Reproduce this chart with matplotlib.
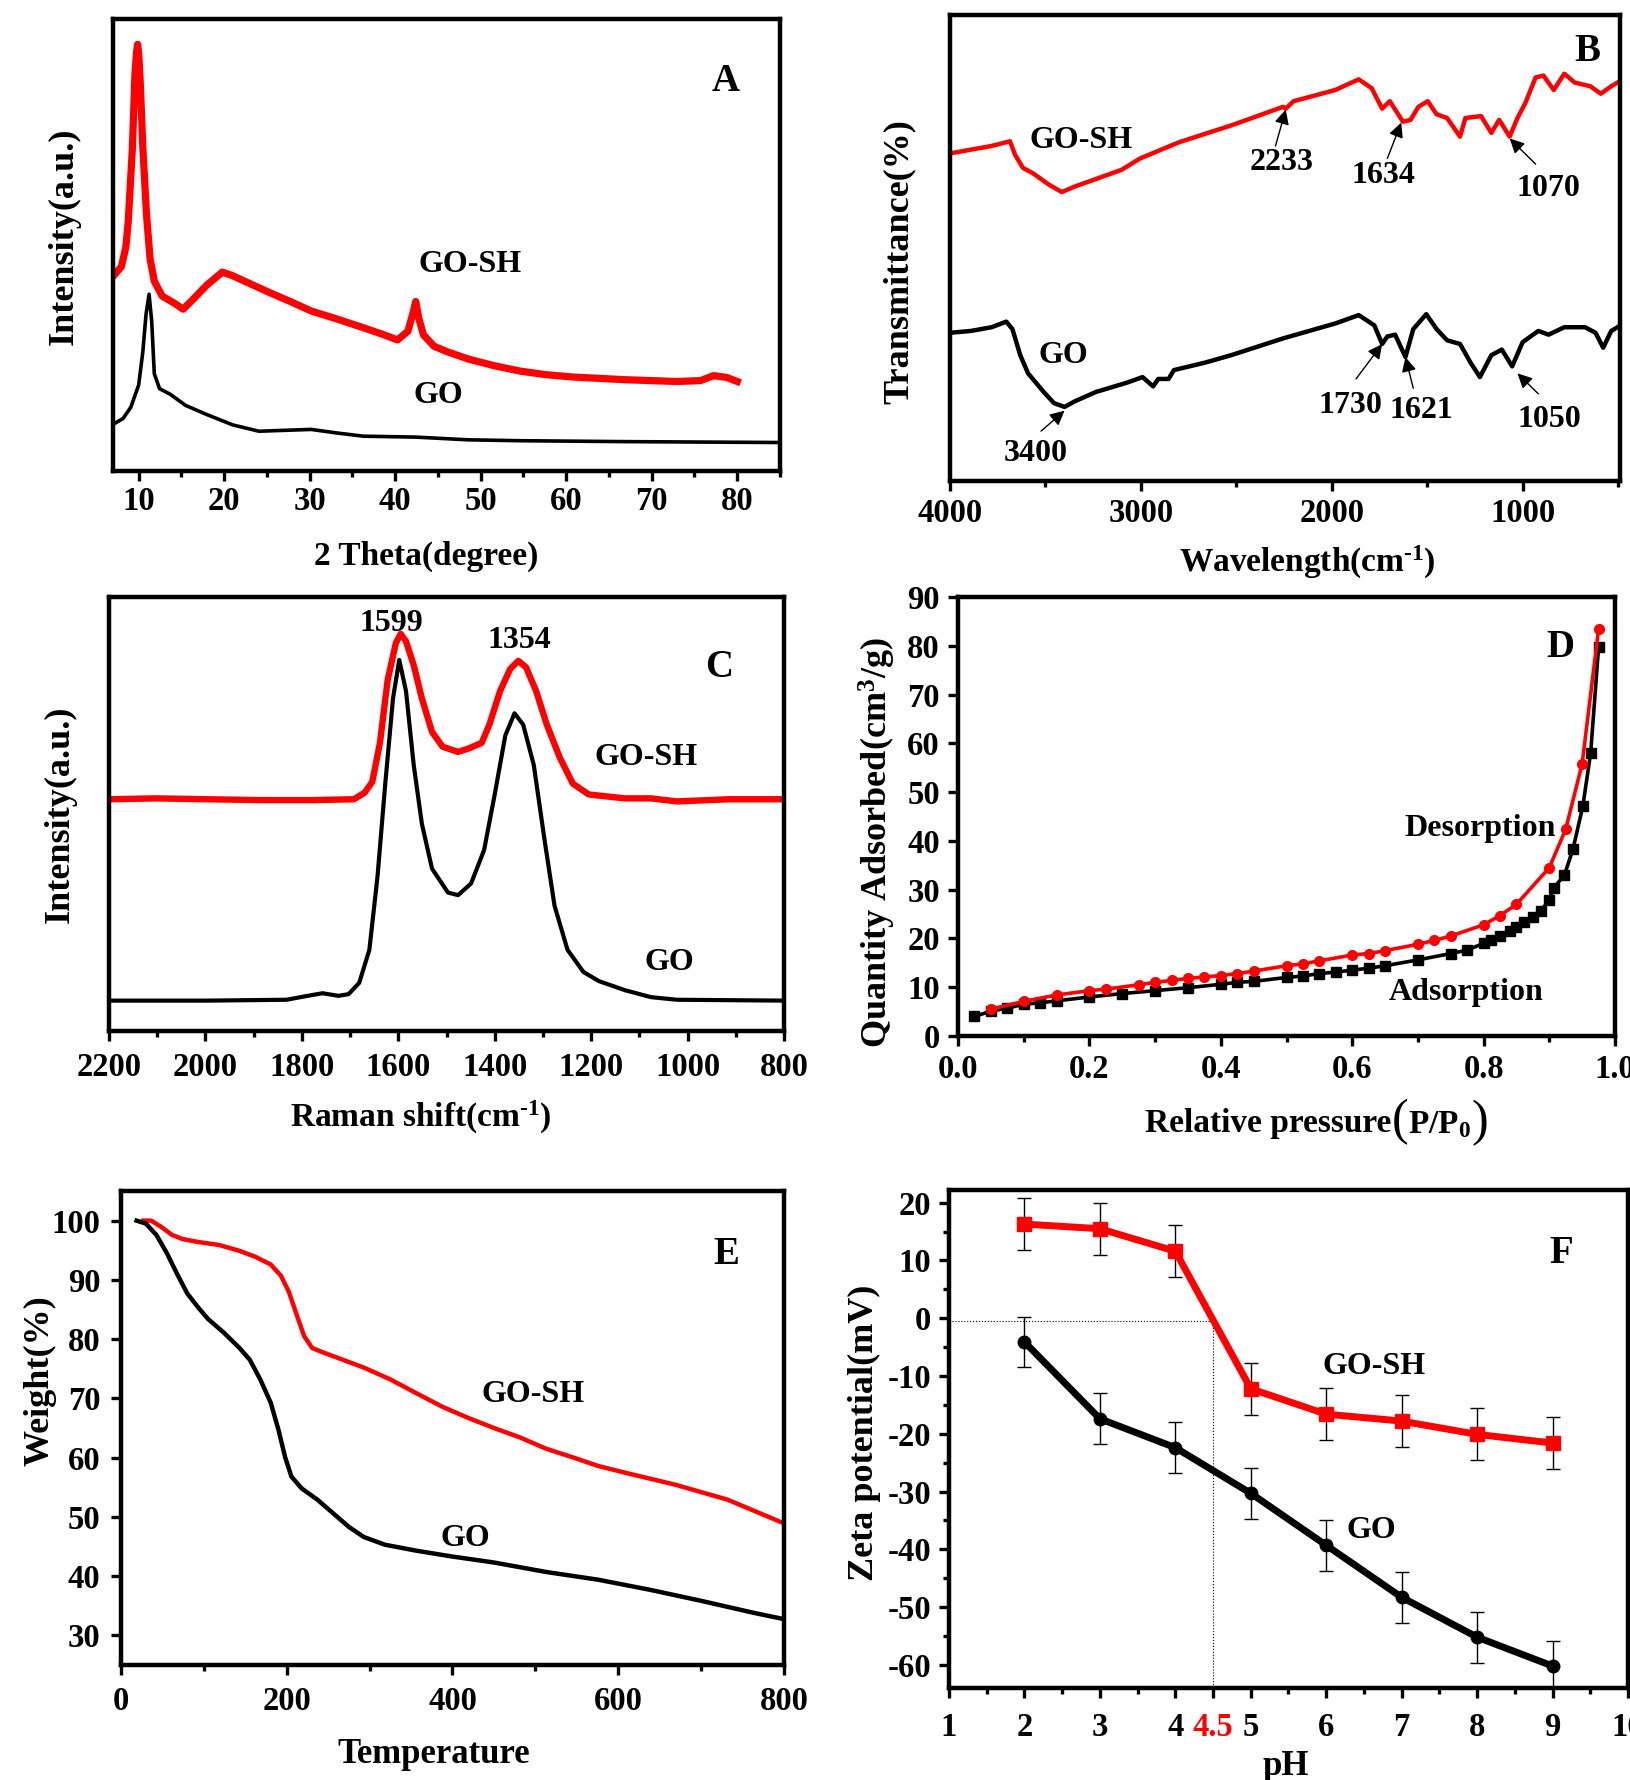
import matplotlib
matplotlib.use('Agg')
import matplotlib.pyplot as plt
from matplotlib.ticker import MultipleLocator, FixedLocator, FormatStrFormatter

plt.rcParams['font.family'] = ['Liberation Serif', 'DejaVu Serif']
plt.rcParams['font.weight'] = 'bold'
plt.rcParams['axes.labelweight'] = 'bold'
plt.rcParams['axes.unicode_minus'] = False
plt.rcParams['mathtext.fontset'] = 'custom'
plt.rcParams['mathtext.rm'] = 'Liberation Serif:bold'
plt.rcParams['mathtext.it'] = 'Liberation Serif:bold'
plt.rcParams['mathtext.bf'] = 'Liberation Serif:bold'

RED = '#ff0000'

# ---------------- Panel A: XRD ----------------
xrd_gosh_x = [7.07, 7.98, 8.5, 8.78, 9.27, 9.57, 9.75, 9.88, 10.02, 10.18, 10.49, 10.92, 11.34, 11.83, 12.75,
              14.28, 15.2, 16.11, 17.95, 19.78, 21.0, 22.84, 25.28, 27.73, 30.17, 33.23, 36.28, 38.73,
              40.26, 41.48, 42.09, 42.4, 42.76, 43.31, 44.54, 46.06, 48.5, 51.56, 54.62, 57.68, 60.73,
              66.85, 72.96, 75.7, 77.24, 78.77, 80.0]
xrd_gosh_y = [43.2, 45.2, 49.5, 55.1, 71.5, 87.9, 92.5, 94.4, 92.0, 86.2, 71.5, 56.7, 46.9, 42.0, 38.7,
              37.0, 35.8, 37.5, 41.1, 44.0, 43.2, 41.6, 39.5, 37.5, 35.4, 33.6, 31.7, 30.1,
              29.0, 30.9, 35.0, 37.5, 33.8, 30.1, 27.6, 26.4, 24.8, 23.3, 22.1, 21.3, 20.8,
              20.2, 19.8, 20.0, 21.1, 20.7, 19.8]
xrd_go_x = [7.07, 8.17, 9.08, 10.0, 10.49, 10.86, 11.22, 11.53, 11.83, 12.45, 13.67, 15.5, 17.95, 21.0,
            24.06, 27.1, 30.17, 33.23, 36.28, 42.4, 48.5, 54.62, 66.85, 85.2]
xrd_go_y = [10.4, 11.6, 14.1, 19.0, 26.4, 34.6, 39.1, 33.0, 21.5, 18.2, 17.0, 14.5, 12.5, 10.2,
            8.8, 9.0, 9.2, 8.4, 7.7, 7.5, 6.9, 6.7, 6.5, 6.3]
xrd_ticks = [10, 20, 30, 40, 50, 60, 70, 80]

# ---------------- Panel B: FTIR ----------------
ir_gosh_x = [4000, 3891, 3782, 3686, 3659, 3618, 3564, 3482, 3414, 3346, 3236, 3100, 3005, 2800, 2527,
             2255, 2241, 2200, 1982, 1859, 1791, 1736, 1696, 1627, 1587, 1546, 1497, 1451, 1396, 1328,
             1300, 1218, 1164, 1123, 1068, 1027, 986, 932, 891, 837, 782, 727, 645, 591, 536, 487]
ir_gosh_y = [70.3, 71.1, 71.9, 72.9, 70.0, 67.2, 66.0, 63.6, 62.0, 63.2, 64.8, 66.8, 69.2, 72.7, 76.3,
             80.3, 79.9, 81.5, 83.9, 86.2, 84.3, 79.9, 81.5, 77.1, 77.5, 80.3, 81.5, 78.7, 77.9, 73.9,
             77.9, 78.3, 74.7, 77.5, 73.9, 77.9, 81.1, 86.6, 87.0, 83.9, 87.4, 85.5, 84.7, 83.1, 84.7, 85.9]
ir_go_x = [4000, 3891, 3782, 3705, 3673, 3632, 3591, 3509, 3455, 3400, 3346, 3236, 3073, 2991, 2936,
           2909, 2855, 2827, 2664, 2527, 2255, 1982, 1859, 1777, 1736, 1709, 1668, 1614, 1573, 1505,
           1451, 1396, 1328, 1273, 1224, 1164, 1109, 1055, 1000, 918, 864, 782, 673, 618, 578, 536, 487]
ir_go_y = [31.8, 32.2, 33.0, 34.2, 32.6, 27.0, 23.1, 19.1, 16.7, 15.9, 17.1, 19.1, 21.1, 22.3, 20.3,
           21.9, 21.9, 23.8, 25.4, 27.0, 30.6, 33.8, 35.6, 33.4, 29.4, 31.0, 31.4, 26.6, 32.6, 35.8,
           32.6, 30.2, 29.4, 25.4, 22.3, 27.0, 28.2, 24.6, 29.8, 32.2, 31.4, 33.0, 33.0, 31.8, 28.6, 32.2, 33.4]
ir_labels = ['2233', '1634', '1070', '3400', '1730', '1621', '1050']
ir_label_pos = [(2263, 68.4), (1728, 65.6), (864, 62.8), (3550, 6.0), (1900, 16.3), (1532, 15.1), (858, 13.1)]
ir_arrow_tail = [(2295, 71.9), (1709, 69.2), (932, 68.0), (3523, 10.7), (1873, 21.9), (1573, 19.9), (918, 18.7)]
ir_arrow_tip = [(2241, 79.7), (1636, 76.9), (1068, 73.5), (3400, 15.1), (1736, 29.4), (1614, 26.6), (1027, 23.1)]
ir_ticks = [4000, 3000, 2000, 1000]

# ---------------- Panel C: Raman ----------------
ram_gosh_x = [2200, 2103, 1995, 1886, 1778, 1692, 1670, 1654, 1638, 1622, 1605, 1595, 1584, 1568, 1551,
              1530, 1508, 1476, 1454, 1427, 1411, 1389, 1368, 1351, 1335, 1314, 1292, 1265, 1238, 1205,
              1130, 1076, 1022, 914, 800]
ram_gosh_y = [53.4, 53.6, 53.4, 53.2, 53.2, 53.4, 54.9, 57.4, 66.4, 80.9, 89.4, 91.5, 89.8, 84.3, 76.6,
              68.9, 65.5, 64.3, 65.1, 66.4, 70.6, 78.3, 83.4, 85.3, 83.8, 78.3, 70.6, 63.0, 57.0, 54.5,
              53.6, 53.6, 52.9, 53.4, 53.4]
ram_go_x = [2200, 1995, 1832, 1778, 1757, 1724, 1703, 1681, 1660, 1643, 1627, 1611, 1598, 1584, 1568,
            1551, 1530, 1497, 1476, 1449, 1422, 1400, 1378, 1359, 1341, 1319, 1297, 1276, 1249, 1216,
            1184, 1130, 1076, 1022, 800]
ram_go_y = [7.0, 7.0, 7.2, 8.3, 8.7, 8.1, 8.5, 11.1, 18.7, 35.7, 57.0, 76.6, 85.5, 78.3, 61.3,
            47.7, 37.4, 31.9, 31.3, 34.0, 41.7, 54.5, 68.1, 73.2, 70.6, 61.3, 44.3, 28.9, 18.7, 13.6,
            11.5, 9.4, 7.8, 7.2, 7.0]
ram_ticks = [2200, 2000, 1800, 1600, 1400, 1200, 1000, 800]

# ---------------- Panel D: N2 isotherm ----------------
ads_p = [0.025, 0.05, 0.075, 0.1, 0.125, 0.15, 0.2, 0.25, 0.3, 0.35, 0.4, 0.425, 0.45, 0.5, 0.525, 0.55,
         0.575, 0.6, 0.625, 0.65, 0.7, 0.75, 0.775, 0.8, 0.812, 0.825, 0.84, 0.85, 0.862, 0.875, 0.887,
         0.9, 0.907, 0.923, 0.936, 0.951, 0.963, 0.975]
ads_q = [4.0, 5.1, 5.7, 6.5, 6.8, 7.2, 8.0, 8.7, 9.3, 9.9, 10.6, 11.0, 11.2, 12.0, 12.3, 12.8,
         13.1, 13.5, 13.9, 14.4, 15.6, 16.9, 17.6, 19.0, 19.7, 20.5, 21.6, 22.4, 23.4, 24.3, 25.6,
         27.9, 30.4, 33.0, 38.3, 47.1, 58.1, 79.7]
des_p = [0.05, 0.1, 0.15, 0.2, 0.225, 0.275, 0.3, 0.325, 0.35, 0.375, 0.4, 0.425, 0.45, 0.5, 0.525,
         0.55, 0.6, 0.625, 0.65, 0.7, 0.725, 0.75, 0.8, 0.825, 0.85, 0.9, 0.925, 0.95, 0.975]
des_q = [5.5, 7.1, 8.4, 9.3, 9.6, 10.5, 11.0, 11.4, 11.8, 12.1, 12.4, 12.8, 13.3, 14.4, 14.8,
         15.4, 16.6, 16.9, 17.5, 18.8, 19.6, 20.5, 22.8, 24.7, 27.0, 34.5, 42.4, 55.8, 83.4]

# ---------------- Panel E: TGA ----------------
tga_go_t = [18.8, 30, 42.6, 55, 67.7, 80, 92.8, 105, 124, 143, 155.5, 168, 180.6, 190, 198, 205.6, 218,
            237, 256, 275, 293, 318.5, 356, 400, 450, 513, 575.5, 638, 701, 763.6, 798]
tga_go_w = [100, 99.5, 97.6, 94.6, 91.0, 87.7, 85.4, 83.4, 81.1, 78.5, 76.5, 73.2, 69.3, 64.7, 60.1,
            56.8, 54.8, 52.9, 50.6, 48.3, 46.6, 45.3, 44.3, 43.3, 42.3, 40.7, 39.4, 37.7, 35.8, 33.8, 32.8]
tga_gosh_t = [27, 36.4, 49, 61.4, 74, 92.8, 118, 143, 162, 180.6, 193, 202.5, 212, 221, 230.7, 243, 268,
              293, 325, 356, 387.5, 419, 450, 481.5, 513, 544, 575.5, 607, 669.6, 732, 800]
tga_gosh_w = [100, 100, 98.9, 97.6, 96.9, 96.4, 95.9, 94.9, 93.9, 92.6, 90.7, 88.0, 84.1, 80.5, 78.5,
              77.8, 76.5, 75.2, 73.2, 70.9, 68.6, 66.7, 65.0, 63.4, 61.5, 60.1, 58.6, 57.5, 55.4, 52.9, 48.9]

# ---------------- Panel F: Zeta potential ----------------
ph = [2, 3, 4, 5, 6, 7, 8, 9]
zeta_gosh = [16.3, 15.5, 11.6, -12.2, -16.6, -17.8, -20.1, -21.6]
zeta_gosh_err = [4.5, 4.5, 4.5, 4.5, 4.5, 4.5, 4.5, 4.5]
zeta_go = [-4.1, -17.4, -22.4, -30.3, -39.3, -48.3, -55.2, -60.2]
zeta_go_err = [4.4, 4.4, 4.4, 4.4, 4.4, 4.4, 4.4, 4.4]
iep_ph = 4.5
iep_zeta = -0.4
ph_ticks = [1, 2, 3, 4, 4.5, 5, 6, 7, 8, 9, 10]
ph_ticklabels = ['1', '2', '3', '4', '4.5', '5', '6', '7', '8', '9', '10']

# ---------------- Figure ----------------
W, H = 1631, 1780
fig = plt.figure(figsize=(W / 100, H / 100), dpi=100)

TICK_FS = 23.5
LAB_FS = 24
YLAB_FS = 26
ANN_FS = 23
LET_FS = 28


def add_ax(l, r, t, b):
    return fig.add_axes([l / W, 1 - b / H, (r - l) / W, (b - t) / H])


def style(ax, pad=6.5):
    for s in ax.spines.values():
        s.set_linewidth(3.2)
    ax.tick_params(which='major', direction='out', length=7, width=2.4, labelsize=TICK_FS, pad=pad)
    ax.tick_params(which='minor', direction='out', length=4.5, width=2.4)
    for lab in ax.get_xticklabels() + ax.get_yticklabels():
        lab.set_fontweight('bold')


# ---- A ----
axA = add_ax(113, 780, 19, 471)
axA.plot(xrd_gosh_x, xrd_gosh_y, color=RED, lw=5.2, solid_joinstyle='round')
axA.plot(xrd_go_x, xrd_go_y, color='k', lw=2.6)
axA.set_xlim(7, 85)
axA.set_ylim(0, 100)
axA.set_xticks(xrd_ticks)
axA.xaxis.set_minor_locator(MultipleLocator(5))
axA.set_yticks([])
style(axA, pad=4)
axA.set_xlabel('2 Theta(degree)', fontsize=LAB_FS)
axA.xaxis.set_label_coords(0.47, -0.155)
axA.set_ylabel('Intensity(a.u.)', fontsize=YLAB_FS)
axA.yaxis.set_label_coords(-0.049, 0.52)
axA.text(48.8, 45.7, 'GO-SH', fontsize=ANN_FS, ha='center', va='center')
axA.text(45.0, 16.6, 'GO', fontsize=ANN_FS, ha='center', va='center')
axA.text(78.6, 86.2, 'A', fontsize=LET_FS, ha='center', va='center')

# ---- B ----
axB = add_ax(950, 1620, 15, 481)
axB.plot(ir_gosh_x, ir_gosh_y, color=RED, lw=3.2)
axB.plot(ir_go_x, ir_go_y, color='k', lw=3.2)
axB.set_xlim(4000, 490)
axB.set_ylim(0, 100)
axB.set_xticks(ir_ticks)
axB.xaxis.set_minor_locator(MultipleLocator(500))
axB.set_yticks([])
style(axB, pad=5)
axB.set_xlabel(r'Wavelength(cm$^{\text{-}1}$)', fontsize=LAB_FS)
axB.xaxis.set_label_coords(0.533, -0.135)
axB.set_ylabel('Transmittance(%)', fontsize=YLAB_FS)
axB.yaxis.set_label_coords(-0.051, 0.47)
axB.text(3313, 73.1, 'GO-SH', fontsize=ANN_FS, ha='center', va='center')
axB.text(3408, 27.0, 'GO', fontsize=ANN_FS, ha='center', va='center')
axB.text(660, 92.2, 'B', fontsize=LET_FS, ha='center', va='center')
for lab, pos, tail, tip in zip(ir_labels, ir_label_pos, ir_arrow_tail, ir_arrow_tip):
    axB.text(pos[0], pos[1], lab, fontsize=ANN_FS, ha='center', va='center')
    axB.annotate('', xy=tip, xytext=tail,
                 arrowprops=dict(arrowstyle='-|>', color='k', lw=1.0, mutation_scale=22,
                                 shrinkA=0, shrinkB=0))

# ---- C ----
axC = add_ax(109, 784, 597, 1031)
axC.plot(ram_gosh_x, ram_gosh_y, color=RED, lw=4.6, solid_joinstyle='round')
axC.plot(ram_go_x, ram_go_y, color='k', lw=3.0)
axC.set_xlim(2200, 800)
axC.set_ylim(0, 100)
axC.set_xticks(ram_ticks)
axC.xaxis.set_minor_locator(MultipleLocator(100))
axC.set_yticks([])
style(axC, pad=8)
axC.set_xlabel(r'Raman shift(cm$^{\text{-}1}$)', fontsize=LAB_FS)
axC.xaxis.set_label_coords(0.462, -0.156)
axC.set_ylabel('Intensity(a.u.)', fontsize=YLAB_FS)
axC.yaxis.set_label_coords(-0.048, 0.5)
axC.text(1614, 93.8, '1599', fontsize=ANN_FS, ha='center', va='center')
axC.text(1349, 90.0, '1354', fontsize=ANN_FS, ha='center', va='center')
axC.text(935, 83.8, 'C', fontsize=LET_FS, ha='center', va='center')
axC.text(1086, 63.0, 'GO-SH', fontsize=ANN_FS, ha='center', va='center')
axC.text(1038, 15.7, 'GO', fontsize=ANN_FS, ha='center', va='center')

# ---- D ----
axD = add_ax(958, 1615, 597, 1036)
axD.plot(ads_p, ads_q, color='k', lw=2.6, marker='s', ms=7)
axD.plot(des_p, des_q, color=RED, lw=2.6, marker='o', ms=7)
axD.set_xlim(0, 1.0)
axD.set_ylim(0, 90)
axD.xaxis.set_major_locator(MultipleLocator(0.2))
axD.xaxis.set_minor_locator(MultipleLocator(0.1))
axD.yaxis.set_major_locator(MultipleLocator(10))
axD.xaxis.set_major_formatter(FormatStrFormatter('%.1f'))
style(axD, pad=6)
axD.set_ylabel(r'Quantity Adsorbed(cm$^3$/g)', fontsize=YLAB_FS)
axD.yaxis.set_label_coords(-0.092, 0.44)
# x label with enlarged parentheses, chained left to right
tD1 = axD.text(0.285, -0.20, 'Relative pressure', transform=axD.transAxes, fontsize=LAB_FS,
               ha='left', va='center')
tD2 = axD.annotate('(', xy=(1, 0.55), xycoords=tD1, fontsize=LAB_FS + 12, ha='left', va='center',
                   fontweight='normal')
tD3 = axD.annotate('P/P$_0$', xy=(1, 0.45), xycoords=tD2, fontsize=LAB_FS, ha='left', va='center')
tD4 = axD.annotate(')', xy=(1, 0.55), xycoords=tD3, fontsize=LAB_FS + 12, ha='left', va='center',
                   fontweight='normal')
axD.text(0.917, 79.7, 'D', fontsize=LET_FS, ha='center', va='center')
axD.text(0.794, 42.5, 'Desorption', fontsize=ANN_FS, ha='center', va='center')
axD.text(0.774, 8.9, 'Adsorption', fontsize=ANN_FS, ha='center', va='center')

# ---- E ----
axE = add_ax(121, 784, 1191, 1665)
axE.plot(tga_gosh_t, tga_gosh_w, color=RED, lw=3.2)
axE.plot(tga_go_t, tga_go_w, color='k', lw=3.2)
axE.set_xlim(0, 800)
axE.set_ylim(25, 105)
axE.xaxis.set_major_locator(MultipleLocator(200))
axE.xaxis.set_minor_locator(MultipleLocator(100))
axE.yaxis.set_major_locator(MultipleLocator(10))
style(axE, pad=8)
axE.set_xlabel('Temperature', fontsize=LAB_FS + 1)
axE.xaxis.set_label_coords(0.472, -0.155)
axE.set_ylabel('Weight(%)', fontsize=YLAB_FS)
axE.yaxis.set_label_coords(-0.097, 0.6)
axE.text(730, 94.3, 'E', fontsize=LET_FS, ha='center', va='center')
axE.text(497, 70.6, 'GO-SH', fontsize=ANN_FS, ha='center', va='center')
axE.text(416, 46.3, 'GO', fontsize=ANN_FS, ha='center', va='center')

# ---- F ----
axF = add_ax(949, 1628, 1190, 1688)
axF.plot([1, iep_ph], [iep_zeta, iep_zeta], color='k', lw=0.8, ls=':')
axF.plot([iep_ph, iep_ph], [-70, iep_zeta], color='k', lw=0.8, ls=':')
axF.errorbar(ph, zeta_gosh, yerr=zeta_gosh_err, color=RED, lw=5, marker='s', ms=10,
             ecolor='k', elinewidth=1.0, capsize=5, capthick=1.0)
axF.errorbar(ph, zeta_go, yerr=zeta_go_err, color='k', lw=5, marker='o', ms=9,
             ecolor='k', elinewidth=1.0, capsize=5, capthick=1.0)
axF.set_xlim(1, 10)
axF.set_ylim(-64, 22.2)
axF.xaxis.set_major_locator(FixedLocator(ph_ticks))
axF.set_xticklabels(ph_ticklabels)
axF.xaxis.set_minor_locator(FixedLocator([1.5, 2.5, 3.5, 5.5, 6.5, 7.5, 8.5, 9.5]))
axF.yaxis.set_major_locator(MultipleLocator(10))
axF.yaxis.set_minor_locator(MultipleLocator(5))
style(axF, pad=10)
axF.tick_params(axis='y', pad=6)
for lab in axF.get_xticklabels():
    if lab.get_text() == '4.5':
        lab.set_color(RED)
axF.set_xlabel('pH', fontsize=LAB_FS + 1)
axF.xaxis.set_label_coords(0.496, -0.125)
axF.set_ylabel('Zeta potential(mV)', fontsize=YLAB_FS)
axF.yaxis.set_label_coords(-0.10, 0.512)
axF.text(9.12, 11.2, 'F', fontsize=LET_FS, ha='center', va='center')
axF.text(6.63, -8.4, 'GO-SH', fontsize=ANN_FS, ha='center', va='center')
axF.text(6.6, -36.7, 'GO', fontsize=ANN_FS, ha='center', va='center')

fig.savefig('out.png', dpi=100)
